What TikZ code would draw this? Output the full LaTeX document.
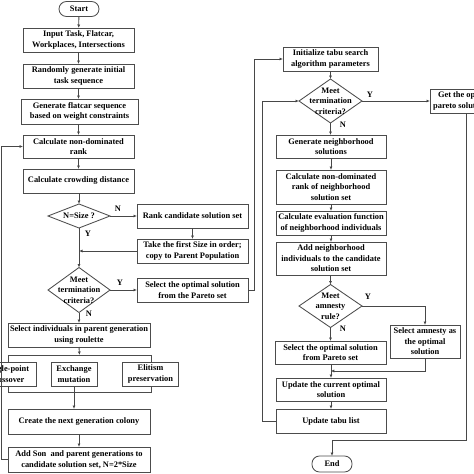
\documentclass[tikz,border=0pt]{standalone}
\usepackage{fontspec}
\setmainfont{Liberation Serif}
\usetikzlibrary{arrows.meta,shapes.geometric,calc}
\newcommand\figfont{\bfseries\fontsize{8.4}{10.6}\selectfont}
\tikzset{
  box/.style={draw=black!70, line width=0.85pt, fill=white, align=center, inner sep=1pt, outer sep=0pt, font=\figfont},
  term/.style={box, rounded corners=7.5pt},
  dia/.style={draw=black!70, line width=0.85pt, fill=white, shape=diamond, inner sep=0pt, outer sep=0pt},
  dtxt/.style={align=center, font=\figfont, inner sep=0pt},
  lbl/.style={font=\figfont, inner sep=0pt},
  arr/.style={draw=black!72, line width=0.85pt, -{Latex[length=3.5pt,width=3pt]}}
}
\begin{document}
\begin{tikzpicture}[x=1pt,y=-1pt]
\useasboundingbox (0,0) rectangle (474,474);
\clip (0,0) rectangle (474,474);
% left column
\node[term, minimum width=40pt, minimum height=15pt] (start) at (79,9) {Start};
\node[box, minimum width=111pt, minimum height=24pt] (in1) at (78.5,40) {Input Task, Flatcar,\\Workplaces, Intersections};
\node[box, minimum width=111pt, minimum height=24pt] (in2) at (78.5,76) {Randomly generate initial\\task sequence};
\node[box, minimum width=117pt, minimum height=25pt] (in3) at (79.5,111.5) {Generate flatcar sequence\\based on weight constraints};
\node[box, minimum width=111pt, minimum height=23pt] (in4) at (78.5,146.5) {Calculate non-dominated\\rank};
\node[box, minimum width=111pt, minimum height=24pt] (in5) at (78.5,181) {Calculate crowding distance};
\node[dia, minimum width=62pt, minimum height=24pt] (d1) at (79,216) {};
\node[dtxt] (d1t) at (d1) {N=Size ?};
\node[box, minimum width=111pt, minimum height=24pt] (rk) at (192.5,216) {Rank candidate solution set};
\node[box, minimum width=111pt, minimum height=24pt] (tk) at (192.5,251) {Take the first Size in order;\\copy to Parent Population};
\node[dia, minimum width=62pt, minimum height=45pt] (d2) at (79,290) {};
\node[dtxt] (d2t) at (d2) {Meet\\termination\\criteria?};
\node[box, minimum width=111pt, minimum height=24pt] (so) at (192.5,290) {Select the optimal solution\\from the Pareto set};
\node[box, minimum width=142pt, minimum height=24pt] (si) at (79,335) {Select individuals in parent generation\\using roulette};
\node[draw=black!70, line width=0.85pt, minimum width=143pt, minimum height=37pt, inner sep=0pt, outer sep=0pt] (fr) at (79.5,373.5) {};
\node[box, minimum width=57pt, minimum height=24pt] (sp) at (7.5,374) {Single-point\\crossover};
\node[box, minimum width=46pt, minimum height=24pt] (ex) at (74,374) {Exchange\\mutation};
\node[box, minimum width=56pt, minimum height=24pt] (el) at (150.5,374) {Elitism\\preservation};
\node[box, minimum width=142pt, minimum height=25pt] (cr) at (79,421.5) {Create the next generation colony};
\node[box, minimum width=142pt, minimum height=25pt] (ad) at (79,459.5) {Add Son\ \ and parent generations to\\candidate solution set, N=2*Size};
% right column
\node[box, minimum width=95pt, minimum height=24pt] (ini) at (330.5,59) {Initialize tabu search\\algorithm parameters};
\node[dia, minimum width=63pt, minimum height=44pt] (d3) at (330.5,101) {};
\node[dtxt] (d3t) at (d3) {Meet\\termination\\criteria?};
\node[box, minimum width=72pt, minimum height=24pt] (get) at (466,101) {Get the optimal\\pareto solution set};
\node[box, minimum width=110pt, minimum height=23pt] (gn) at (331,146.5) {Generate neighborhood\\solutions};
\node[box, minimum width=110pt, minimum height=34pt] (cn) at (331,187) {Calculate non-dominated\\rank of neighborhood\\solution set};
\node[box, minimum width=110pt, minimum height=24pt] (ce) at (331,223) {Calculate evaluation function\\of neighborhood individuals};
\node[box, minimum width=110pt, minimum height=33pt] (an) at (331,258.5) {Add neighborhood\\individuals to the candidate\\solution set};
\node[dia, minimum width=63pt, minimum height=43pt] (d4) at (330.5,306) {};
\node[dtxt] (d4t) at (d4) {Meet\\amnesty\\rule?};
\node[box, minimum width=70pt, minimum height=33pt] (sa) at (425,341.5) {Select amnesty as\\the optimal\\solution};
\node[box, minimum width=111pt, minimum height=23pt] (sp2) at (330.5,352.5) {Select the optimal solution\\from Pareto set};
\node[box, minimum width=110pt, minimum height=23pt] (uc) at (331,389.5) {Update the current optimal\\solution};
\node[box, minimum width=110pt, minimum height=24pt] (ut) at (331,421) {Update tabu list};
\node[term, minimum width=40pt, minimum height=16pt] (end) at (332,464) {End};
% labels
\node[lbl] (n1) at (118,209) {N};
\node[lbl] (y1) at (88,234) {Y};
\node[lbl] (y2) at (120,283) {Y};
\node[lbl] (n2) at (89,314) {N};
\node[lbl] (y3) at (370,95) {Y};
\node[lbl] (n3) at (343,125) {N};
\node[lbl] (y4) at (368,297) {Y};
\node[lbl] (n4) at (343,329) {N};
% coordinates
\coordinate (L1) at (1,459.5);
\coordinate (R1) at (466,440);
% left connectors
\draw[arr] (start) -- (in1);
\draw[arr] (in1) -- (in2);
\draw[arr] (in2) -- (in3.north -| in2);
\draw[arr] (in3.south -| in4) -- (in4);
\draw[arr] (in4) -- (in5);
\draw[arr] (in5.south -| d1) -- (d1.north);
\draw[arr] (d1.east) -- (rk.west);
\draw[arr] (rk) -- (tk);
\draw[arr] (tk.west) -- (tk.west -| d1.south);
\draw[arr] (d1.south) -- (d2.north);
\draw[arr] (d2.east) -- (so.west);
\draw[arr] (d2.south) -- (si.north);
\draw[arr] (si.south) -- (fr.north);
\draw[arr] (ex.south) -- (cr.north -| ex.south);
\draw[arr] (cr) -- (ad);
\draw[arr] (ad.west) -- (L1) |- (in4.west);
\draw[arr] (so.east) -- ++(6,0) |- (ini.west);
% right connectors
\draw[arr] (ini) -- (d3.north);
\draw[arr] (d3.east) -- (get.west);
\draw[arr] (d3.south) -- (gn.north -| d3.south);
\draw[arr] (gn) -- (cn);
\draw[arr] (cn) -- (ce);
\draw[arr] (ce) -- (an);
\draw[arr] (an.south -| d4) -- (d4.north);
\draw[arr] (d4.east) -| (sa.north);
\draw[arr] (d4.south) -- (sp2.north);
\draw[arr] (sa.south) |- ($(sp2.south)!0.5!(uc.north)$);
\draw[arr] (sp2.south -| uc) -- (uc);
\draw[arr] (uc) -- (ut);
\draw[arr] (ut.west) -- ++(-14,0) |- (d3.west);
\draw[arr] (get.south) -- (R1) -| (end.north);
\end{tikzpicture}
\end{document}
